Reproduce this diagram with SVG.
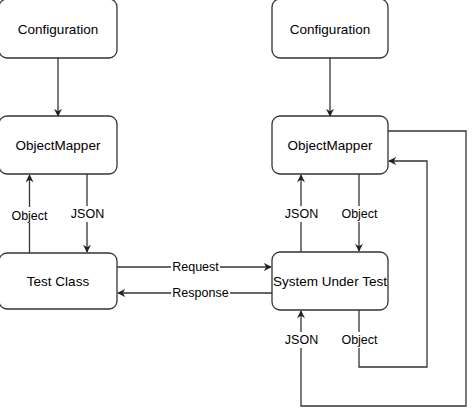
<svg xmlns="http://www.w3.org/2000/svg" width="474" height="415" viewBox="0 0 474 415">
<defs>
<marker id="ah" viewBox="0 0 10 10" refX="9" refY="5" markerWidth="8" markerHeight="8" markerUnits="userSpaceOnUse" orient="auto">
<path d="M0,0 L10,5 L0,10 L3,5 Z" fill="#222"/>
</marker>
<style>
.box{fill:#fff;stroke:#333;stroke-width:1.3}
.nt{font-family:"Liberation Sans",Arial,sans-serif;font-size:13.5px;fill:#000;text-anchor:middle;dominant-baseline:central}
.lt{font-family:"Liberation Sans",Arial,sans-serif;font-size:12.5px;fill:#000;text-anchor:middle;dominant-baseline:central}
.ln{fill:none;stroke:#333;stroke-width:1.3}
.bg{fill:#fff}
</style>
</defs>
<rect width="474" height="415" fill="#fff"/>
<g id="connectors">
<path class="ln" d="M58,58 V116" marker-end="url(#ah)"/>
<path class="ln" d="M330,58 V116" marker-end="url(#ah)"/>
<path class="ln" d="M29.5,253 V175" marker-end="url(#ah)"/>
<path class="ln" d="M87,174 V252" marker-end="url(#ah)"/>
<path class="ln" d="M117,267 H271" marker-end="url(#ah)"/>
<path class="ln" d="M272,293 H118" marker-end="url(#ah)"/>
<path class="ln" d="M301,252 V175" marker-end="url(#ah)"/>
<path class="ln" d="M359,174 V251" marker-end="url(#ah)"/>
<path class="ln" d="M388,131 H466 V406 H301 V311" marker-end="url(#ah)"/>
<path class="ln" d="M359,310 V367 H427 V161 H389" marker-end="url(#ah)"/>
<rect class="bg" x="9" y="207" width="41" height="16"/>
<text class="lt" x="29.5" y="215.5">Object</text>
<rect class="bg" x="71" y="206" width="33" height="16"/>
<text class="lt" x="87.5" y="214">JSON</text>
<rect class="bg" x="171" y="259" width="49" height="16"/>
<text class="lt" x="195.5" y="267">Request</text>
<rect class="bg" x="171" y="285" width="59" height="16"/>
<text class="lt" x="200.5" y="293">Response</text>
<rect class="bg" x="285" y="206" width="33" height="16"/>
<text class="lt" x="301.5" y="214">JSON</text>
<rect class="bg" x="339" y="206" width="41" height="16"/>
<text class="lt" x="359.5" y="214">Object</text>
<rect class="bg" x="285" y="332" width="33" height="16"/>
<text class="lt" x="301.5" y="340">JSON</text>
<rect class="bg" x="339" y="332" width="41" height="16"/>
<text class="lt" x="359.5" y="340">Object</text>
</g>
<g id="config-left"><rect class="box" x="-1" y="-1" width="118" height="59" rx="8"/><text class="nt" x="58" y="29">Configuration</text></g>
<g id="mapper-left"><rect class="box" x="-1" y="116" width="118" height="58" rx="8"/><text class="nt" x="58" y="145">ObjectMapper</text></g>
<g id="testclass"><rect class="box" x="-1" y="253" width="118" height="56" rx="8"/><text class="nt" x="58" y="281">Test Class</text></g>
<g id="config-right"><rect class="box" x="272" y="-1" width="116" height="59" rx="8"/><text class="nt" x="330" y="29">Configuration</text></g>
<g id="mapper-right"><rect class="box" x="272" y="116" width="116" height="58" rx="8"/><text class="nt" x="330" y="145">ObjectMapper</text></g>
<g id="sut"><rect class="box" x="272" y="252" width="116" height="58" rx="8"/><text class="nt" x="330" y="281">System Under Test</text></g>
</svg>
